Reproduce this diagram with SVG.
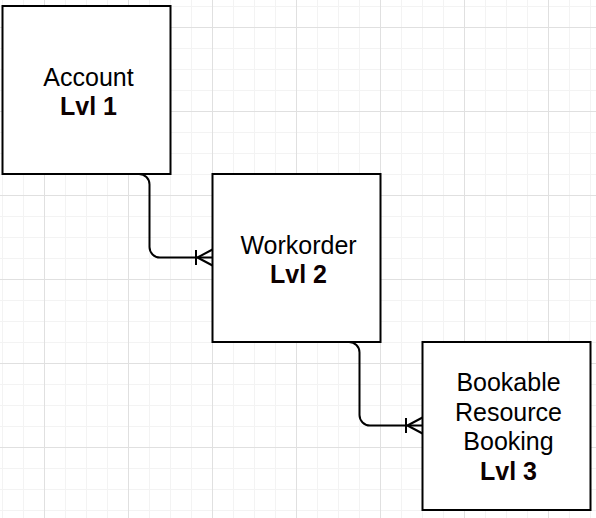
<svg xmlns="http://www.w3.org/2000/svg" width="596" height="518" viewBox="0 0 596 518">
  <defs>
    <pattern id="grid" x="2" y="6" width="84" height="84" patternUnits="userSpaceOnUse">
      <g stroke="#f3f3f3" stroke-width="1">
        <line x1="0.5" y1="0" x2="0.5" y2="84"/>
        <line x1="21.5" y1="0" x2="21.5" y2="84"/>
        <line x1="63.5" y1="0" x2="63.5" y2="84"/>
        <line x1="0" y1="0.5" x2="84" y2="0.5"/>
        <line x1="0" y1="42.5" x2="84" y2="42.5"/>
        <line x1="0" y1="63.5" x2="84" y2="63.5"/>
      </g>
      <g stroke="#e0e0e0" stroke-width="1">
        <line x1="42.5" y1="0" x2="42.5" y2="84"/>
        <line x1="0" y1="21.5" x2="84" y2="21.5"/>
      </g>
    </pattern>
    <marker id="crow" viewBox="-20 -10 22 20" markerWidth="22" markerHeight="20" refX="0" refY="0" orient="auto" markerUnits="userSpaceOnUse" overflow="visible">
      <path d="M-16.5,-7.5 V7.5 M-15,0 L0,-8 M-15,0 L0,8" fill="none" stroke="#000" stroke-width="2"/>
    </marker>
    <style>
      .box { fill: #fff; stroke: #000; stroke-width: 2; }
      .edge { fill: none; stroke: #000; stroke-width: 2; }
      .t { font-family: "Liberation Sans", Arial, sans-serif; font-size: 25px; text-anchor: middle; fill: #000; }
      .b { font-weight: bold; fill: #0d0000; }
    </style>
  </defs>
  <rect x="0" y="0" width="596" height="518" fill="#fff"/>
  <rect x="0" y="0" width="596" height="518" fill="url(#grid)"/>

  <g id="connectors">
    <path class="edge" d="M128,174 H139 A10.5,10.5 0 0 1 149.5,184.5 V247 A10.5,10.5 0 0 0 160,257.5 H212.5" marker-end="url(#crow)"/>
    <path class="edge" d="M338,342 H349 A10.5,10.5 0 0 1 359.5,352.5 V415 A10.5,10.5 0 0 0 370,425.5 H422.5" marker-end="url(#crow)"/>
  </g>

  <g id="account">
    <rect class="box" x="2.5" y="6" width="168" height="168"/>
    <text class="t" x="88.5" y="85.7">Account</text>
    <text class="t b" x="88.5" y="115">Lvl 1</text>
  </g>

  <g id="workorder">
    <rect class="box" x="212.5" y="174" width="168" height="168"/>
    <text class="t" x="298.5" y="253.5">Workorder</text>
    <text class="t b" x="298.5" y="283">Lvl 2</text>
  </g>

  <g id="booking">
    <rect class="box" x="422.5" y="342" width="168" height="168"/>
    <text class="t" x="508.5" y="391">Bookable</text>
    <text class="t" x="508.5" y="420.7">Resource</text>
    <text class="t" x="508.5" y="450.4">Booking</text>
    <text class="t b" x="508.5" y="480">Lvl 3</text>
  </g>
</svg>
